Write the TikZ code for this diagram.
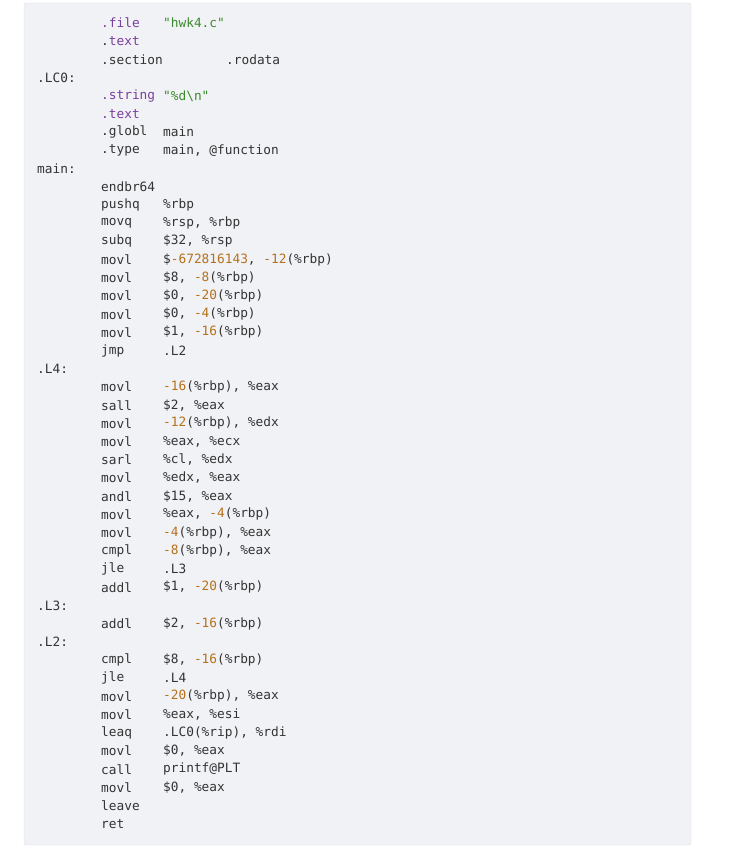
\documentclass[tikz,border=0pt]{standalone}
\usepackage{fontspec}
\setmonofont{DejaVu Sans Mono}
\definecolor{bgc}{HTML}{F1F2F5}
\definecolor{bdc}{HTML}{DEE1E6}
\definecolor{txc}{HTML}{333333}
\definecolor{kw}{HTML}{7A3E9D}
\definecolor{st}{HTML}{3C8A2E}
\definecolor{nm}{HTML}{B5711B}
\newcommand{\K}[1]{\textcolor{kw}{#1}}
\newcommand{\Sg}[1]{\textcolor{st}{#1}}
\newcommand{\N}[1]{\textcolor{nm}{#1}}
\newcounter{lc}
\newcommand{\Lb}[2]{\stepcounter{lc}\node[code] (l\thelc) at (37,{-(23+(#1-1)*18.2)}) {#2};}
\newcommand{\I}[3]{\stepcounter{lc}\node[code] (l\thelc) at (101,{-(23+(#1-1)*18.2)}) {#2};%
\stepcounter{lc}\node[code] (l\thelc) at (163,{-(23+(#1-1)*18.2)}) {#3};}
\begin{document}
\begin{tikzpicture}[x=1pt,y=1pt,
  code/.style={anchor=west,inner sep=0pt,text=txc,font=\ttfamily\fontsize{12.8}{14}\selectfont}]
\useasboundingbox (0,0) rectangle (737,-853);
\draw[bdc,fill=bgc,rounded corners=2pt] (24,-3) rectangle (691,-845);
\I{1}{\K{.file}}{\Sg{"hwk4.c"}}
\Lb{2}{\hspace{64pt}.\K{text}}
\I{3}{.section}{}
\node[code] (rod) at (226,{-(23+2*18.2)}) {.rodata};
\Lb{4}{.LC0:}
\I{5}{\K{.string}}{\Sg{"\%d\textbackslash n"}}
\I{6}{\K{.text}}{}
\I{7}{.globl}{main}
\I{8}{.type}{main, @function}
\Lb{9}{main:}
\I{10}{endbr64}{}
\I{11}{pushq}{\%rbp}
\I{12}{movq}{\%rsp, \%rbp}
\I{13}{subq}{\$32, \%rsp}
\I{14}{movl}{\$\N{-672816143}, \N{-12}(\%rbp)}
\I{15}{movl}{\$8, \N{-8}(\%rbp)}
\I{16}{movl}{\$0, \N{-20}(\%rbp)}
\I{17}{movl}{\$0, \N{-4}(\%rbp)}
\I{18}{movl}{\$1, \N{-16}(\%rbp)}
\I{19}{jmp}{.L2}
\Lb{20}{.L4:}
\I{21}{movl}{\N{-16}(\%rbp), \%eax}
\I{22}{sall}{\$2, \%eax}
\I{23}{movl}{\N{-12}(\%rbp), \%edx}
\I{24}{movl}{\%eax, \%ecx}
\I{25}{sarl}{\%cl, \%edx}
\I{26}{movl}{\%edx, \%eax}
\I{27}{andl}{\$15, \%eax}
\I{28}{movl}{\%eax, \N{-4}(\%rbp)}
\I{29}{movl}{\N{-4}(\%rbp), \%eax}
\I{30}{cmpl}{\N{-8}(\%rbp), \%eax}
\I{31}{jle}{.L3}
\I{32}{addl}{\$1, \N{-20}(\%rbp)}
\Lb{33}{.L3:}
\I{34}{addl}{\$2, \N{-16}(\%rbp)}
\Lb{35}{.L2:}
\I{36}{cmpl}{\$8, \N{-16}(\%rbp)}
\I{37}{jle}{.L4}
\I{38}{movl}{\N{-20}(\%rbp), \%eax}
\I{39}{movl}{\%eax, \%esi}
\I{40}{leaq}{.LC0(\%rip), \%rdi}
\I{41}{movl}{\$0, \%eax}
\I{42}{call}{printf@PLT}
\I{43}{movl}{\$0, \%eax}
\I{44}{leave}{}
\I{45}{ret}{}
\end{tikzpicture}
\end{document}
